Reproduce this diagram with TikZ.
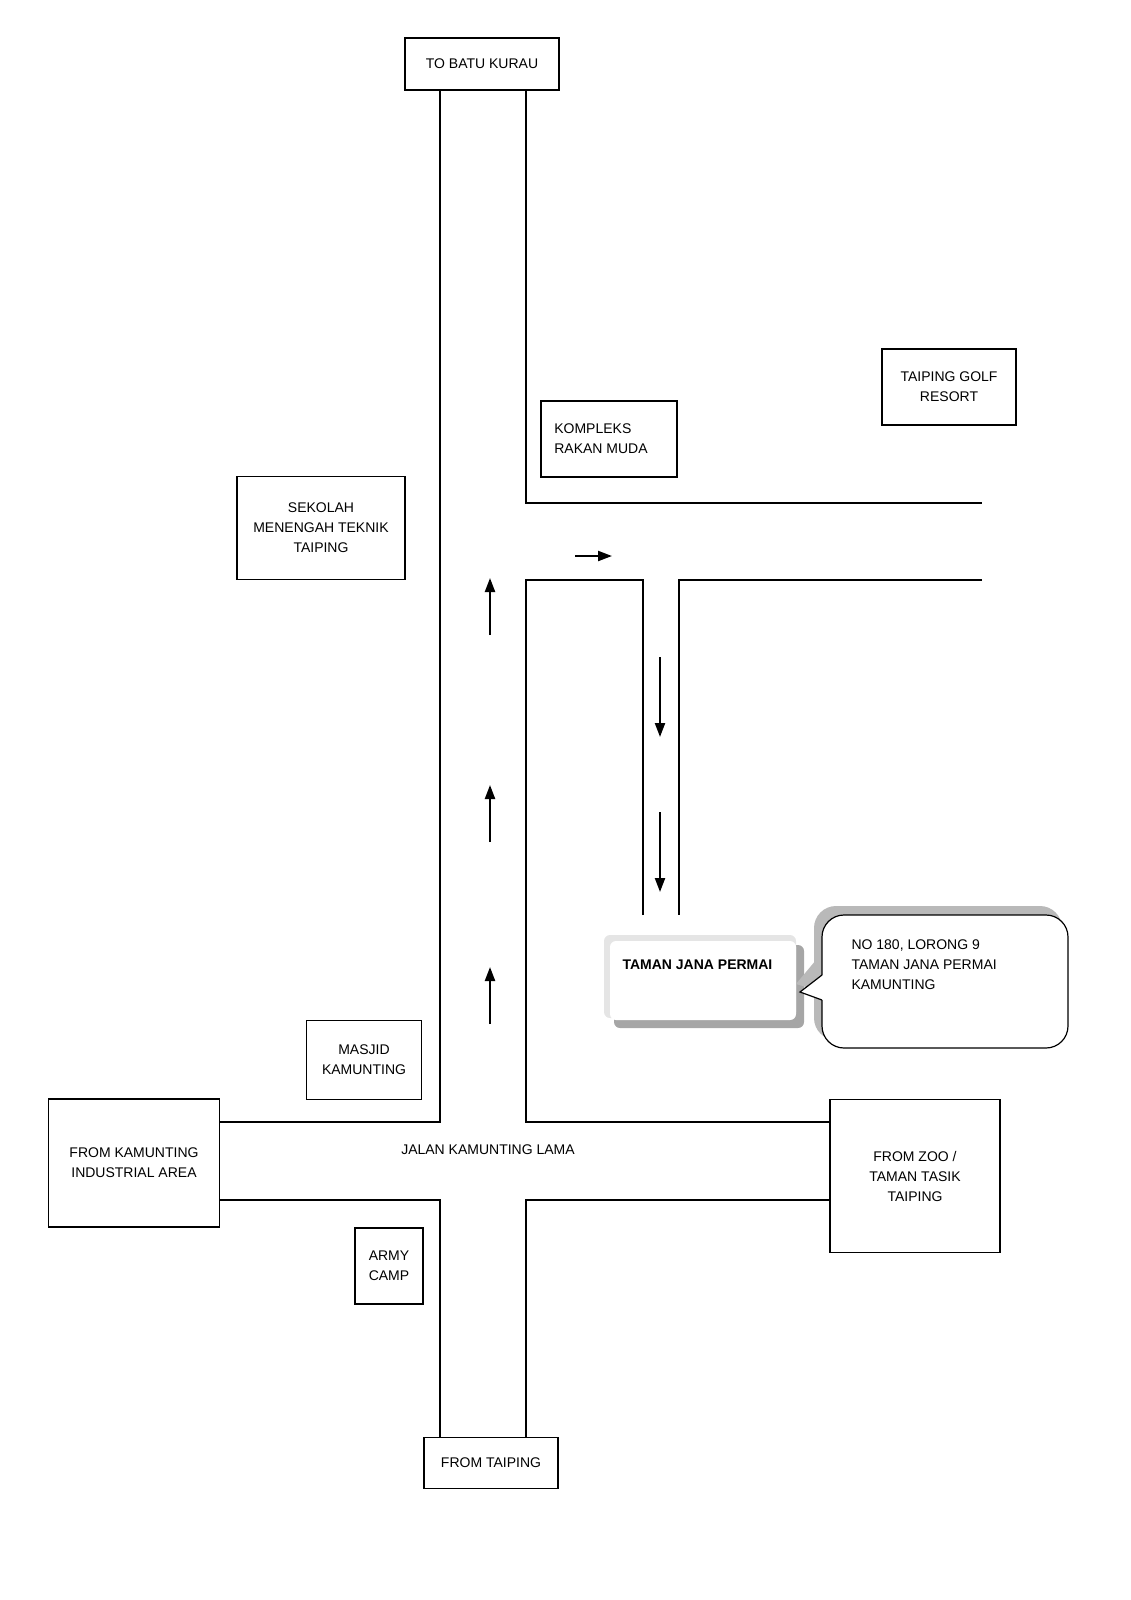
\documentclass[tikz,border=0pt]{standalone}
\usepackage{fontspec}
\setmainfont{Liberation Sans}
\usetikzlibrary{arrows.meta}
\begin{document}
\begin{tikzpicture}[x=1pt,y=-1pt,
  road/.style={line width=1.5pt},
  box/.style={draw,line width=1.2pt,minimum width=#1,align=center,inner sep=0pt,font=\fontsize{14}{20}\selectfont},
  arr/.style={line width=2.2pt,-{Triangle[length=14pt,width=10pt]}}]
\useasboundingbox (0,0) rectangle (1131,1600);
% roads
\draw[road] (440,90) -- (440,1122) -- (220,1122);
\draw[road] (526,90) -- (526,503) -- (982,503);
\draw[road] (982,580) -- (679,580) -- (679,915);
\draw[road] (643,915) -- (643,580) -- (526,580) -- (526,1122) -- (830,1122);
\draw[road] (220,1200) -- (440,1200) -- (440,1437);
\draw[road] (830,1200) -- (526,1200) -- (526,1437);
% boxes
\node[box=154pt,minimum height=52pt] (batu) at (482,64) {TO BATU KURAU};
\node[box=136pt,minimum height=76pt,align=left] (kom) at (609,439) {\hspace*{-16pt}KOMPLEKS\\\hspace*{-16pt}RAKAN MUDA};
\node[box=134pt,minimum height=76pt] (golf) at (949,387) {TAIPING GOLF\\RESORT};
\node[box=168pt,minimum height=103pt] (sek) at (321,528) {SEKOLAH\\MENENGAH TEKNIK\\TAIPING};
\node[box=115pt,minimum height=79pt] (mas) at (364,1060) {MASJID\\KAMUNTING};
\node[box=171pt,minimum height=128pt] (kam) at (134,1163) {FROM KAMUNTING\\INDUSTRIAL AREA};
\node[box=170pt,minimum height=153pt] (zoo) at (915,1176) {FROM ZOO /\\TAMAN TASIK\\TAIPING};
\node[box=68pt,minimum height=76pt] (army) at (389,1266) {ARMY\\CAMP};
\node[box=134pt,minimum height=51pt] (tai) at (491,1463) {FROM TAIPING};
\node[font=\fontsize{14}{16}\selectfont] (jalan) at (488,1150) {JALAN KAMUNTING LAMA};
% Taman Jana Permai with shadow
\fill[gray!70,rounded corners=6pt] (614,945) rectangle (804,1028);
\fill[gray!20,rounded corners=6pt] (604,935) rectangle (796,1018);
\fill[white,rounded corners=6pt] (610,941) rectangle (796,1020);
\node[font=\bfseries\fontsize{14}{16}\selectfont,anchor=west] (tjp) at (619,965) {TAMAN JANA PERMAI};
% callout
\coordinate (tip) at (800,992);
\fill[gray!55,rounded corners=22pt] (814,906) rectangle (1062,1040);
\fill[gray!55] (796,984) -- (816,960) -- (816,990) -- cycle;
\draw[line width=1.2pt,rounded corners=22pt,fill=white] (822,975) -- (822,915) -- (1068,915) -- (1068,1048) -- (822,1048) -- (822,1000);
\draw[line width=1.2pt,fill=white] (822,1000) -- (tip) -- (822,975);
\fill[white] (823,977) rectangle (835,998);
\node[font=\fontsize{14}{20}\selectfont,align=left,anchor=north west] (addr) at (848,936) {NO 180, LORONG 9\\TAMAN JANA PERMAI\\KAMUNTING};
% arrows
\coordinate (u1a) at (490,635); \coordinate (u1b) at (490,578);
\coordinate (u2a) at (490,842); \coordinate (u2b) at (490,785);
\coordinate (u3a) at (490,1024); \coordinate (u3b) at (490,967);
\coordinate (ra) at (575,556); \coordinate (rb) at (612,556);
\coordinate (d1a) at (660,657); \coordinate (d1b) at (660,737);
\coordinate (d2a) at (660,812); \coordinate (d2b) at (660,892);
\draw[arr] (u1a) -- (u1b);
\draw[arr] (u2a) -- (u2b);
\draw[arr] (u3a) -- (u3b);
\draw[arr] (ra) -- (rb);
\draw[arr] (d1a) -- (d1b);
\draw[arr] (d2a) -- (d2b);
\end{tikzpicture}
\end{document}
